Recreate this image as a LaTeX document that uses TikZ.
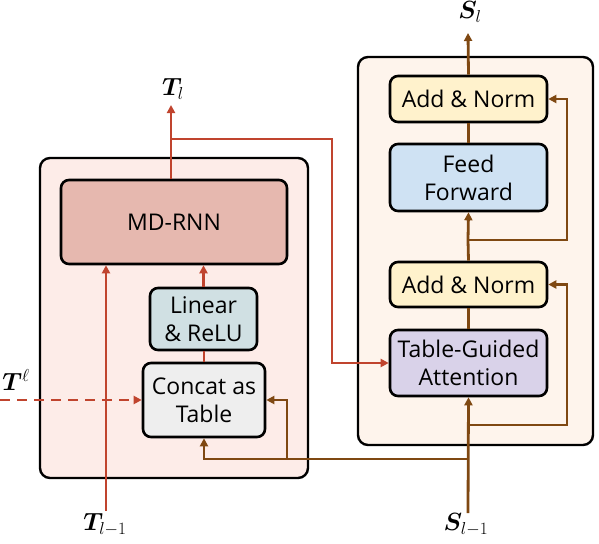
\documentclass[tikz,border=0pt]{standalone}
\usepackage{fontspec}
\setmainfont{Open Sans}
\usepackage{amsmath,bm}
\usetikzlibrary{arrows.meta}
\definecolor{redc}{RGB}{192,68,46}
\definecolor{brownc}{RGB}{127,72,18}
\definecolor{leftbg}{RGB}{253,236,232}
\definecolor{rightbg}{RGB}{254,244,236}
\definecolor{mdrnnc}{RGB}{230,184,175}
\definecolor{linearc}{RGB}{208,224,227}
\definecolor{concatc}{RGB}{238,238,238}
\definecolor{addnormc}{RGB}{255,242,204}
\definecolor{ffc}{RGB}{207,226,243}
\definecolor{tgac}{RGB}{217,210,233}
\tikzset{
  outerbox/.style={draw=black, line width=2.4pt, rounded corners=10pt, inner sep=0pt},
  blockbox/.style={draw=black, line width=2.6pt, rounded corners=8pt, align=center, inner sep=0pt,
    font=\fontsize{23}{28}\selectfont},
  redline/.style={draw=redc, line width=2.8pt},
  brownline/.style={draw=brownc, line width=2.8pt},
  tip/.style={-{Triangle[length=8pt,width=8pt]}},
  mathlabel/.style={inner sep=0pt, font=\fontsize{23.5}{28}\selectfont},
}
\begin{document}
\begin{tikzpicture}[x=1pt,y=-1pt]
\useasboundingbox (0,0) rectangle (599,543);
% outer containers
\node[outerbox, fill=leftbg, minimum width=268, minimum height=320] (leftbox) at (174,318) {};
\node[outerbox, fill=rightbg, minimum width=235, minimum height=388] (rightbox) at (475.5,251) {};
% blocks
\node[blockbox, fill=mdrnnc, minimum width=226, minimum height=84] (mdrnn) at (174,222) {MD-RNN};
\node[blockbox, fill=linearc, minimum width=107, minimum height=62] (linear) at (203.5,319) {Linear\\\& ReLU};
\node[blockbox, fill=concatc, minimum width=122, minimum height=74] (concat) at (204,400) {Concat as\\Table};
\node[blockbox, fill=addnormc, minimum width=157, minimum height=46] (an1) at (468.5,99) {Add \& Norm};
\node[blockbox, fill=ffc, minimum width=157, minimum height=67] (ff) at (468.5,177.5) {Feed\\Forward};
\node[blockbox, fill=addnormc, minimum width=157, minimum height=45] (an2) at (468.5,284.5) {Add \& Norm};
\node[blockbox, fill=tgac, minimum width=157, minimum height=66] (tga) at (468.5,363) {Table-Guided\\Attention};
% labels
\node[mathlabel] (tl) at (173,89) {$\bm{T}_l$};
\node[mathlabel] (tlm) at (105,525) {$\bm{T}_{l-1}$};
\node[mathlabel] (tell) at (16,380) {$\bm{T}^{\ell}$};
\node[mathlabel] (sl) at (470,12) {$\bm{S}_l$};
\node[mathlabel] (slm) at (466,525) {$\bm{S}_{l-1}$};
% helper coordinates
\coordinate (tlmstart) at (106,511);
\coordinate (tlend) at (171,105);
\coordinate (rbranch) at (171,139);
\coordinate (tellstart) at (0,400);
\coordinate (slstart) at (468,513);
\coordinate (slend) at (468,33);
\coordinate (ffsplit) at (468,240);
\coordinate (attsplit) at (468,425);
\coordinate (lowsplit) at (468,459);
% red connectors
\draw[redline, tip] (tlmstart) -- (tlmstart |- mdrnn.south);
\draw[redline, tip] (linear.north) -- (linear.north |- mdrnn.south);
\draw[redline] (concat.north) -- (concat.north |- linear.south);
\draw[redline, tip] (tlend |- mdrnn.north) -- (tlend);
\draw[redline, tip] (rbranch) -- (332,139) -- (332,363) -- (tga.west);
\draw[redline, tip, dashed, dash pattern=on 10pt off 7pt] (tellstart) -- (concat.west);
% brown connectors
\draw[brownline, tip] (slstart) -- (tga.south);
\draw[brownline, tip] (attsplit) -- (567,425) -- (567,284.5) -- (an2.east);
\draw[brownline] (tga.north) -- (an2.south);
\draw[brownline] (an2.north) -- (ffsplit);
\draw[brownline, tip] (ffsplit) -- (ff.south);
\draw[brownline, tip] (ffsplit) -- (567,240) -- (567,99) -- (an1.east);
\draw[brownline] (ff.north) -- (an1.south);
\draw[brownline, tip] (an1.north) -- (slend);
\draw[brownline, tip] (lowsplit) -- (204,459) -- (concat.south);
\draw[brownline, tip] (287,459) -- (287,400) -- (concat.east);
\end{tikzpicture}
\end{document}
